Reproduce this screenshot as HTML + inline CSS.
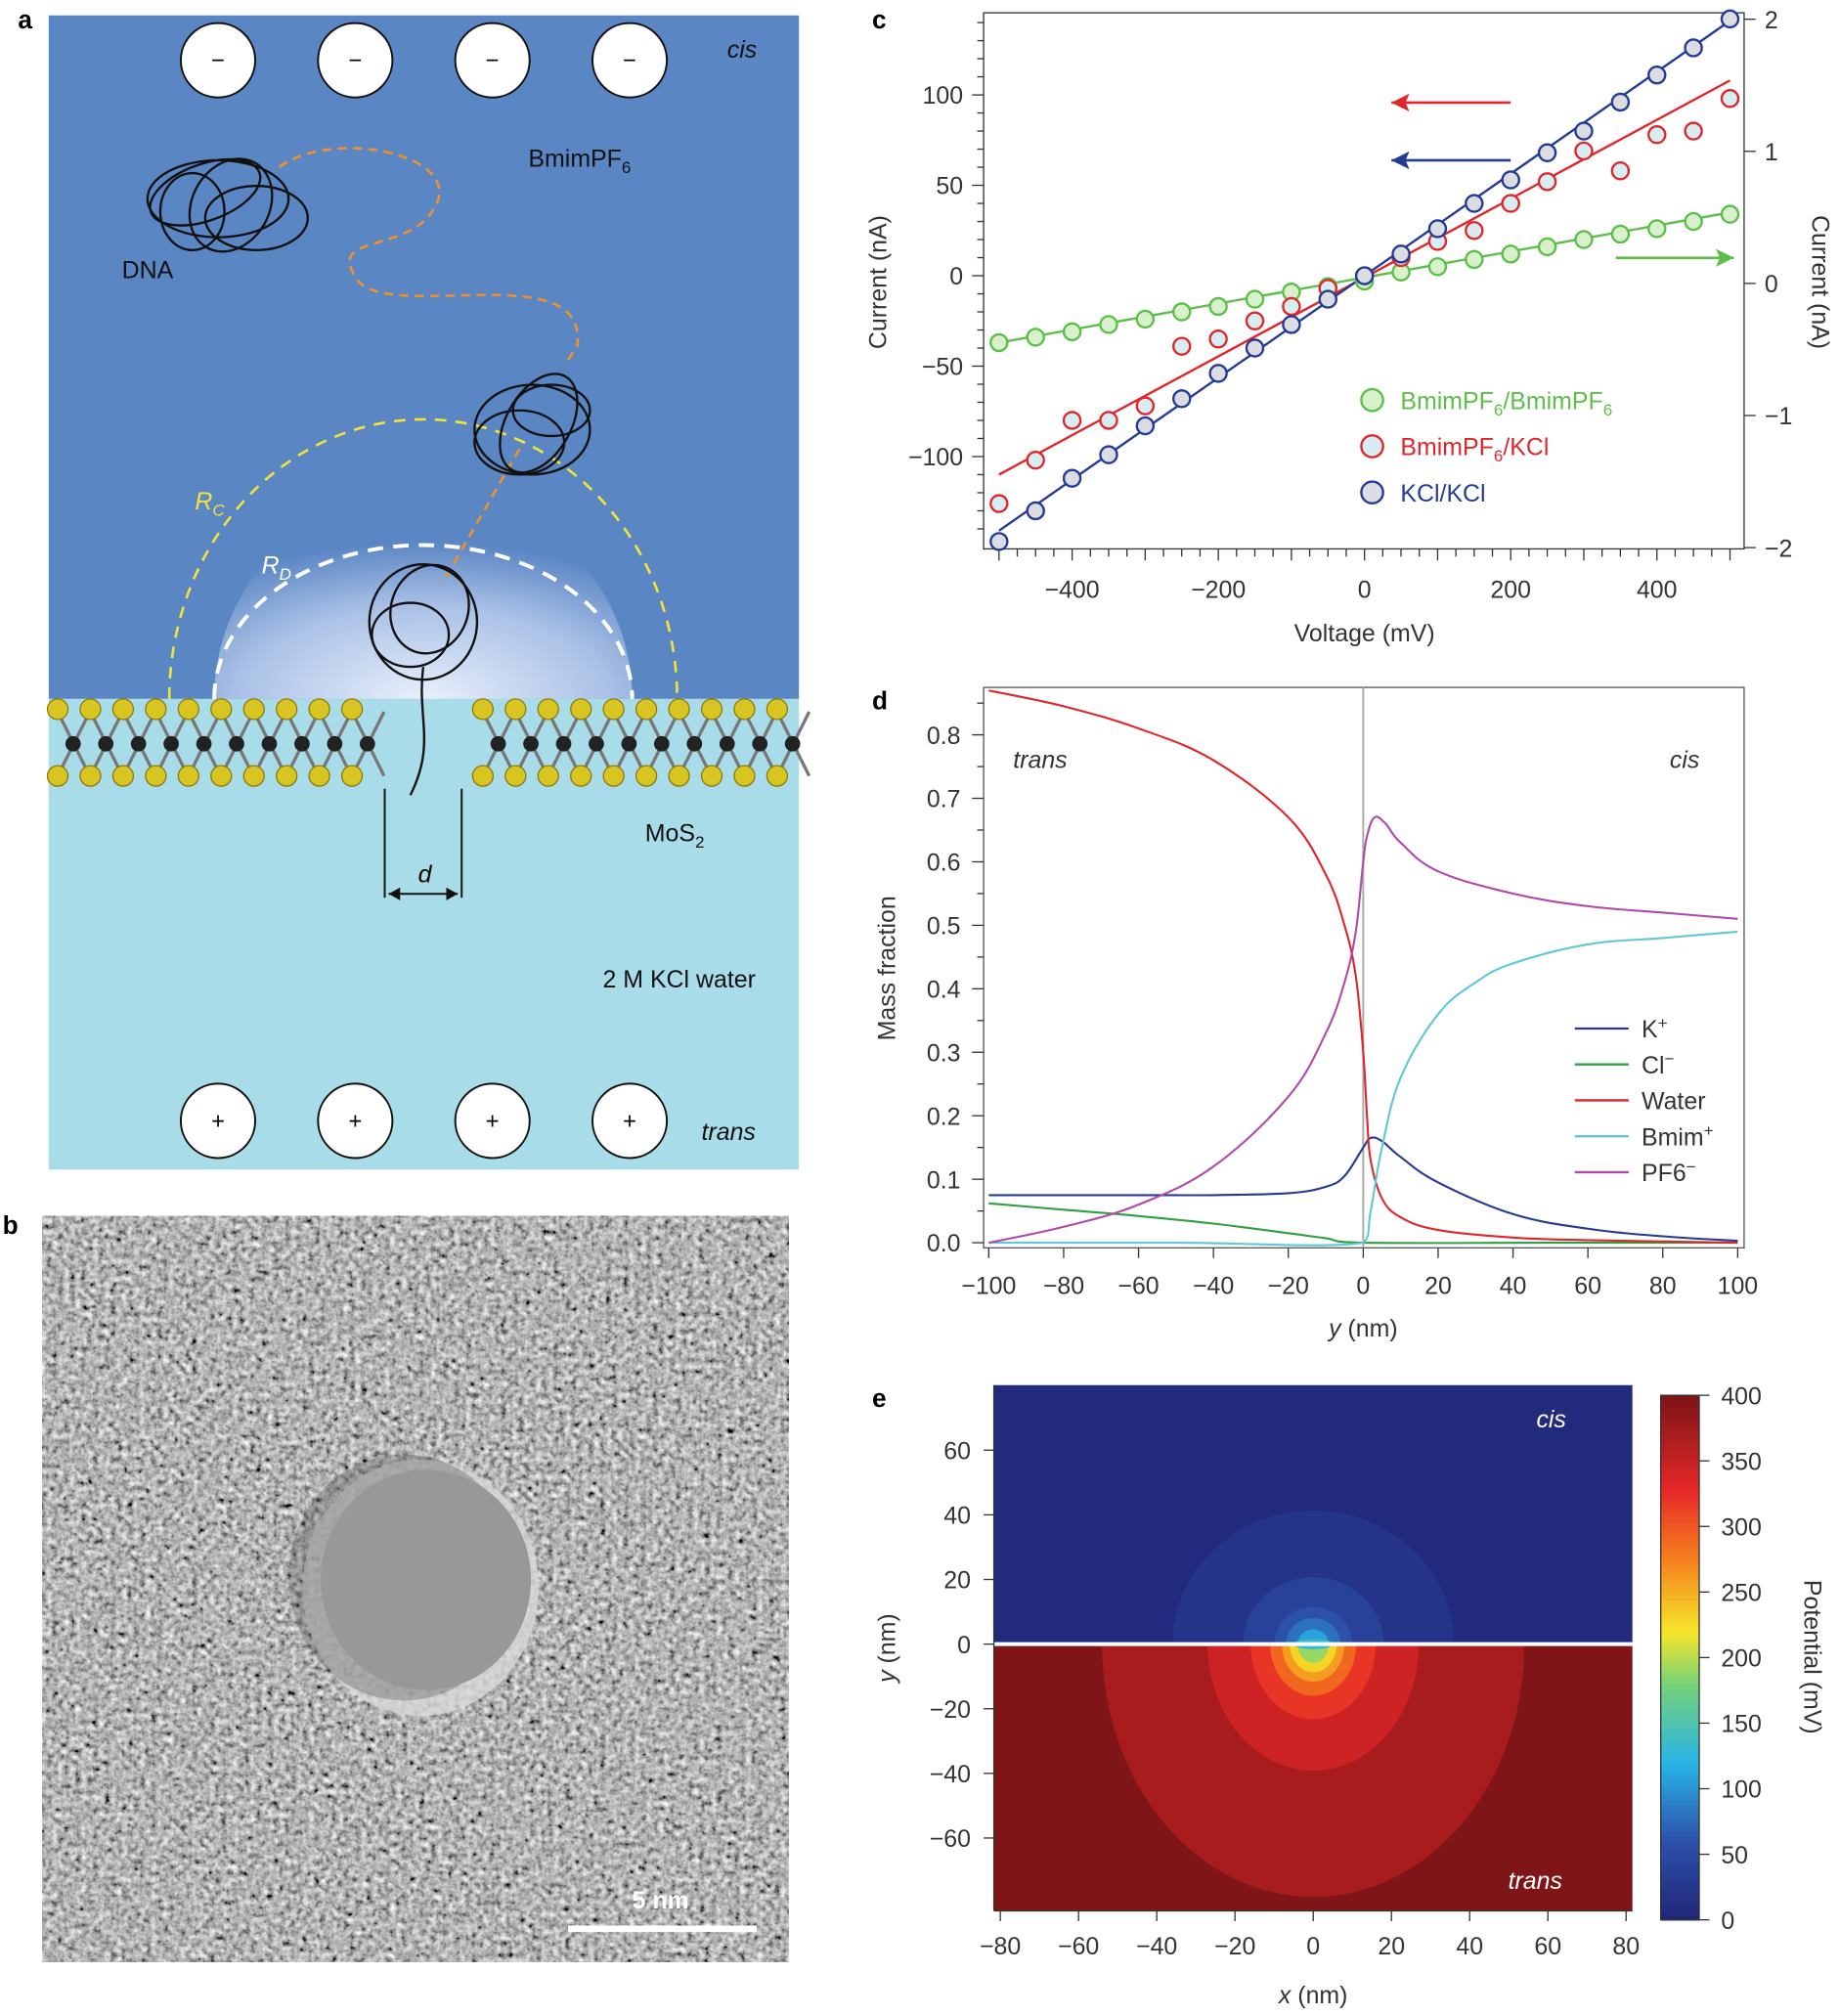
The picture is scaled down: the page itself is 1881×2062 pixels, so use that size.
<!DOCTYPE html>
<html><head><meta charset="utf-8">
<style>
html,body{margin:0;padding:0;background:#fff;}
body{width:1881px;height:2055px;overflow:hidden;}
#wrap{width:1434px;height:1567px;transform:scale(1.31172);transform-origin:0 0;position:relative;}
svg text{font-family:"Liberation Sans",sans-serif;}
</style></head>
<body>
<div id="wrap">
<svg id="fig" width="1434" height="1567" viewBox="0 0 1434 1567" xmlns="http://www.w3.org/2000/svg">
<defs>
<radialGradient id="glow" cx="0.5" cy="1" r="0.75">
<stop offset="0" stop-color="#e8f0fb"/><stop offset="0.6" stop-color="#a9c0e6"/><stop offset="1" stop-color="#5b86c4"/></radialGradient>
<filter id="noise" x="0" y="0" width="100%" height="100%">
<feTurbulence type="fractalNoise" baseFrequency="0.22" numOctaves="3" seed="3"/>
<feColorMatrix type="matrix" values="0.33 0.33 0.33 0 0  0.33 0.33 0.33 0 0  0.33 0.33 0.33 0 0  0 0 0 0 1"/>
<feComponentTransfer><feFuncR type="linear" slope="2.2" intercept="-0.62"/><feFuncG type="linear" slope="2.2" intercept="-0.62"/><feFuncB type="linear" slope="2.2" intercept="-0.62"/></feComponentTransfer>
</filter>
</defs>

<!-- Panel a -->
<g>
<text x="14" y="22" font-size="20" font-weight="bold">a</text>
<rect x="38" y="12" width="585" height="533" fill="#5b86c4"/>
<rect x="38" y="545" width="585" height="367" fill="#a8dce8"/>
<path d="M167 545 A163 163 0 0 1 493 545 Z" fill="url(#glow)"/>
<path d="M132 545 A198 218 0 0 1 528 545" fill="none" stroke="#f2e23a" stroke-width="2" stroke-dasharray="9 7"/>
<path d="M167 545 A163 120 0 0 1 493 545" fill="none" stroke="#fff" stroke-width="3" stroke-dasharray="12 8"/>
<text x="152" y="397" font-size="19" font-style="italic" fill="#f2e23a">R<tspan font-size="13" dy="5">C</tspan></text>
<text x="204" y="447" font-size="19" font-style="italic" fill="#fff">R<tspan font-size="13" dy="5">D</tspan></text>
<g id="mos2"></g>
<path d="M218 130 C260 100 360 120 340 160 C320 200 250 180 280 220 C310 250 460 200 450 270 L440 285" fill="none" stroke="#f0902a" stroke-width="2" stroke-dasharray="7 5"/>
<path d="M405 350 L345 455" fill="none" stroke="#f0902a" stroke-width="2" stroke-dasharray="7 5"/>
<g fill="none" stroke="#111" stroke-width="1.8">
<ellipse cx="170" cy="155" rx="55" ry="30"/><ellipse cx="180" cy="160" rx="30" ry="38" transform="rotate(30 180 160)"/><ellipse cx="160" cy="150" rx="45" ry="22" transform="rotate(-20 160 150)"/><ellipse cx="200" cy="170" rx="40" ry="25"/><ellipse cx="150" cy="165" rx="25" ry="30"/>
<ellipse cx="415" cy="335" rx="45" ry="35"/><ellipse cx="420" cy="330" rx="25" ry="42" transform="rotate(30 420 330)"/><ellipse cx="405" cy="345" rx="35" ry="25"/><ellipse cx="430" cy="320" rx="30" ry="20"/>
<ellipse cx="330" cy="485" rx="42" ry="45"/><ellipse cx="335" cy="475" rx="30" ry="35" transform="rotate(20 335 475)"/><ellipse cx="320" cy="495" rx="30" ry="25"/>
<path d="M330 520 C325 560 340 580 320 620"/>
</g>
<text x="95" y="217" font-size="19" fill="#111">DNA</text>
<text x="412" y="130" font-size="19" fill="#111">BmimPF<tspan font-size="13" dy="5">6</tspan></text>
<text x="567" y="45" font-size="19" font-style="italic" fill="#111">cis</text>
<text x="503" y="656" font-size="19" fill="#111">MoS<tspan font-size="13" dy="5">2</tspan></text>
<text x="470" y="770" font-size="19" fill="#111">2 M KCl water</text>
<text x="547" y="889" font-size="19" font-style="italic" fill="#111">trans</text>
<line x1="300" y1="615" x2="300" y2="700" stroke="#111" stroke-width="1.5"/><line x1="360" y1="615" x2="360" y2="700" stroke="#111" stroke-width="1.5"/>
<line x1="303" y1="697" x2="357" y2="697" stroke="#111" stroke-width="1.5"/>
<path d="M303 697 l9 -5 v10 z M357 697 l-9 -5 v10 z" fill="#111"/>
<text x="326" y="688" font-size="19" font-style="italic">d</text>
<g id="electrodes"></g>
</g>

<!-- Panel b -->
<g>
<text x="2" y="962" font-size="20" font-weight="bold">b</text>
<rect x="33" y="948" width="582" height="582" fill="#7a7a7a"/>
<rect x="33" y="948" width="582" height="582" filter="url(#noise)" opacity="0.95"/>
<ellipse cx="328" cy="1238" rx="92" ry="100" fill="#d8d8d8" opacity="0.8"/>
<ellipse cx="315" cy="1230" rx="90" ry="96" fill="#555" opacity="0.35"/>
<ellipse cx="332" cy="1232" rx="82" ry="86" fill="#989898"/>
<line x1="443" y1="1504" x2="590" y2="1504" stroke="#fff" stroke-width="5"/>
<text x="493" y="1488" font-size="19" fill="#fff" font-weight="bold">5 nm</text>
</g>

<g id="pc"></g>
<g id="pd"></g>
<g id="pe"></g>
</svg>
</div>
<script>
// ---- Panel c data ----
const voltages=[-500,-450,-400,-350,-300,-250,-200,-150,-100,-50,0,50,100,150,200,250,300,350,400,450,500];
const kclKcl=[-147,-130,-112,-99,-83,-68,-54,-40,-27,-13,0,12,26,40,53,68,80,96,111,126,142];
const bmimKcl=[-126,-102,-80,-80,-72,-39,-35,-25,-17,-7,0,10,19,25,40,52,69,58,78,80,98];
const bmimBmim=[-37,-34,-31,-27,-24,-20,-17,-13,-9,-6,-3,2,5,9,12,16,20,23,26,30,34];
const fitV=[-500,500];
const kclFit=[-141,141];
const bmimKclFit=[-110,108];
const bmimBmimFit=[-37,35];
const cXTicks=[-400,-200,0,200,400];
const cYTicks=[-100,-50,0,50,100];
const cRTicks=[-2,-1,0,1,2];
// ---- Panel d data ----
const dYTicksLab=[0.0,0.1,0.2,0.3,0.4,0.5,0.6,0.7,0.8];
const dXTicks=[-100,-80,-60,-40,-20,0,20,40,60,80,100];
const waterY=[-100,-80,-60,-40,-20,-10,-5,-2,0,1,2,5,10,20,40,60,100];
const waterF=[0.87,0.845,0.81,0.76,0.67,0.58,0.50,0.42,0.30,0.20,0.13,0.07,0.04,0.02,0.008,0.004,0.0];
const pf6Y=[-100,-80,-60,-40,-20,-10,-5,-2,0,1,3,6,10,20,40,60,80,100];
const pf6F=[0.0,0.025,0.06,0.12,0.23,0.33,0.41,0.49,0.60,0.64,0.67,0.66,0.63,0.585,0.55,0.53,0.52,0.51];
const bmimY=[-100,-50,0,2,5,10,20,30,40,60,80,100];
const bmimF=[0.0,0.0,0.0,0.05,0.15,0.26,0.36,0.41,0.44,0.47,0.48,0.49];
const kY=[-100,-60,-40,-20,-10,-5,0,2,5,10,20,40,60,80,100];
const kF=[0.075,0.075,0.075,0.078,0.088,0.105,0.15,0.165,0.16,0.135,0.095,0.045,0.022,0.01,0.003];
const clY=[-100,-80,-60,-40,-20,-10,0,50,100];
const clF=[0.062,0.052,0.042,0.03,0.015,0.007,0.0,0.0,0.0];
// ---- Panel e data ----
const eXTicks=[-80,-60,-40,-20,0,20,40,60,80];
const eYTicks=[-60,-40,-20,0,20,40,60];
const cbTicks=[0,50,100,150,200,250,300,350,400];
const cisLevels=[20,40,60,80,110];
const cisRadii=[36,18,10,7,4];
const transLevels=[370,345,320,290,260,230,190];
const transRadii=[54,27,16,11,8,6,4];

const NS='http://www.w3.org/2000/svg';
function el(p,tag,a,txt){const e=document.createElementNS(NS,tag);for(const k in a)e.setAttribute(k,a[k]);if(txt!==undefined)e.textContent=txt;p.appendChild(e);return e;}
function cmap(v){const t=Math.max(0,Math.min(1,v/400));
 const st=[[0,[32,38,120]],[0.15,[45,80,170]],[0.3,[40,180,230]],[0.45,[120,210,120]],[0.55,[245,230,40]],[0.7,[245,120,30]],[0.82,[230,40,40]],[1,[125,20,22]]];
 for(let i=1;i<st.length;i++){if(t<=st[i][0]){const a=st[i-1],b=st[i];const f=(t-a[0])/(b[0]-a[0]);return 'rgb('+a[1].map((c,j)=>Math.round(c+(b[1][j]-c)*f)).join(',')+')';}}return 'rgb(125,20,22)';}
function smooth(pts){ // monotone-ish catmull-rom
 let d='M'+pts[0][0].toFixed(1)+' '+pts[0][1].toFixed(1);
 for(let i=0;i<pts.length-1;i++){const p0=pts[Math.max(0,i-1)],p1=pts[i],p2=pts[i+1],p3=pts[Math.min(pts.length-1,i+2)];
  const t=0.18;
  const c1=[p1[0]+(p2[0]-p0[0])*t,p1[1]+(p2[1]-p0[1])*t],c2=[p2[0]-(p3[0]-p1[0])*t,p2[1]-(p3[1]-p1[1])*t];
  c1[0]=Math.min(Math.max(c1[0],p1[0]),p2[0]);c2[0]=Math.min(Math.max(c2[0],p1[0]),p2[0]);
  d+=` C${c1[0].toFixed(1)} ${c1[1].toFixed(1)} ${c2[0].toFixed(1)} ${c2[1].toFixed(1)} ${p2[0].toFixed(1)} ${p2[1].toFixed(1)}`;}
 return d;}

// panel a decorations
(function(){
 const g=document.getElementById('mos2');
 for(let x=45;x<620;x+=25.5){ if(x>292&&x<368)continue;
  el(g,'path',{d:`M${x} 555 L${x+25} 605 M${x+25} 555 L${x} 605`,stroke:'#777','stroke-width':2.5,fill:'none'});
 }
 for(let x=45;x<620;x+=25.5){ if(x>292&&x<368)continue;
  el(g,'circle',{cx:x,cy:553,r:8,fill:'#d9c521',stroke:'#8a7a10','stroke-width':1});
  el(g,'circle',{cx:x+12,cy:580,r:6,fill:'#222'});
  el(g,'circle',{cx:x,cy:605,r:8,fill:'#d9c521',stroke:'#8a7a10','stroke-width':1});
 }
 const e=document.getElementById('electrodes');
 [170,277,384,491].forEach((x,i)=>{
  const c1=el(e,'circle',{cx:x,cy:47,r:29,fill:'#fff',stroke:'#111','stroke-width':1.5});
  
  
  el(e,'text',{x:x,y:53,'font-size':18,'text-anchor':'middle'},'−');
  const c2=el(e,'circle',{cx:x,cy:874,r:29,fill:'#fff',stroke:'#111','stroke-width':1.5});
  
  
  el(e,'text',{x:x,y:880,'font-size':18,'text-anchor':'middle'},'+');
 });
})();

// panel c
(function(){
 const g=document.getElementById('pc');
 const L=767,R=1360,T=10,B=428;
 const X=v=>1064+v*0.57, Y=v=>215-v*1.41, YR=v=>221-v*103;
 el(g,'text',{x:680,y:22,'font-size':20,'font-weight':'bold'},'c');
 const fr=el(g,'rect',{x:L,y:T,width:R-L,height:B-T,fill:'none',stroke:'#333','stroke-width':1});
 
 for(let v=-500;v<=500;v+=25){el(g,'line',{x1:X(v),y1:B,x2:X(v),y2:B+(v%100===0?9:6),stroke:'#333'});}
 cXTicks.forEach(v=>{const t=el(g,'text',{x:X(v),y:B+38,'font-size':19,'text-anchor':'middle',fill:'#333'},v<0?'−'+(-v):v);});
 for(let v=-140;v<=140;v+=10){if(Y(v)<T||Y(v)>B)continue;el(g,'line',{x1:L,y1:Y(v),x2:L-(v%50===0?9:5),y2:Y(v),stroke:'#333'});}
 cYTicks.forEach(v=>{const t=el(g,'text',{x:L-16,y:Y(v)+7,'font-size':19,'text-anchor':'end',fill:'#333'},v<0?'−'+(-v):v);});
 cRTicks.forEach(v=>{el(g,'line',{x1:R,y1:YR(v),x2:R+9,y2:YR(v),stroke:'#333'});const t=el(g,'text',{x:R+16,y:YR(v)+7,'font-size':19,fill:'#333'},v<0?'−'+(-v):v);});
 let t=el(g,'text',{x:1064,y:500,'font-size':19,'text-anchor':'middle',fill:'#333'},'Voltage (mV)');
 t=el(g,'text',{x:0,y:0,'font-size':19,'text-anchor':'middle',fill:'#333',transform:'translate(691 220) rotate(-90)'},'Current (nA)');
 t=el(g,'text',{x:0,y:0,'font-size':19,'text-anchor':'middle',fill:'#333',transform:'translate(1413 220) rotate(90)'},'Current (nA)');
 const series=[[bmimBmim,bmimBmimFit,'#5cbf4a','#d8f0cc','bmimpf6-bmimpf6'],[bmimKcl,bmimKclFit,'#e0262b','#d6eef2','bmimpf6-kcl'],[kclKcl,kclFit,'#243a94','#dcdde3','kcl-kcl']];
 series.forEach(s=>{
  const ln=el(g,'line',{x1:X(fitV[0]),y1:Y(s[1][0]),x2:X(fitV[1]),y2:Y(s[1][1]),stroke:s[2],'stroke-width':1.8});
  
 });
 series.forEach(s=>{
  s[0].forEach((v,i)=>{const c=el(g,'circle',{cx:X(voltages[i]),cy:Y(v),r:6.5,fill:s[3],stroke:s[2],'stroke-width':1.8});
   });
 });
 const arr=(x1,x2,y,c,n)=>{const a=el(g,'line',{x1:x1,y1:y,x2:x2,y2:y,stroke:c,'stroke-width':2});
  const d=x2<x1?1:-1;el(g,'path',{d:`M${x2} ${y} l${d*14} -7 l${-d*3} 7 l${d*3} 7 z`,fill:c});};
 arr(1178,1085,80,'#e0262b','axis-arrow-red');arr(1178,1085,125,'#243a94','axis-arrow-blue');arr(1260,1352,201,'#5cbf4a','axis-arrow-green');
 const leg=[['#5cbf4a','#d8f0cc','BmimPF<tspan font-size="13" dy="5">6</tspan><tspan dy="-5">/BmimPF</tspan><tspan font-size="13" dy="5">6</tspan>',312,'legend-bmimpf6-bmimpf6'],
  ['#e0262b','#d6eef2','BmimPF<tspan font-size="13" dy="5">6</tspan><tspan dy="-5">/KCl</tspan>',348,'legend-bmimpf6-kcl'],
  ['#243a94','#dcdde3','KCl/KCl',384,'legend-kcl-kcl']];
 leg.forEach(l=>{const c=el(g,'circle',{cx:1070,cy:l[3],r:8.5,fill:l[1],stroke:l[0],'stroke-width':1.8});
  const tx=el(g,'text',{x:1092,y:l[3]+7,'font-size':19,fill:l[0]});tx.innerHTML=l[2];});
})();

// panel d
(function(){
 const g=document.getElementById('pd');
 const L=767,R=1360,T=536,B=973;
 const X=v=>1063+v*2.92, Y=v=>969-v*495;
 el(g,'text',{x:680,y:553,'font-size':20,'font-weight':'bold'},'d');
 const fr=el(g,'rect',{x:L,y:T,width:R-L,height:B-T,fill:'none',stroke:'#555','stroke-width':1});
 
 el(g,'line',{x1:X(0),y1:T,x2:X(0),y2:B,stroke:'#aaa','stroke-width':1.5});
 dXTicks.forEach(v=>{el(g,'line',{x1:X(v),y1:B,x2:X(v),y2:B+8,stroke:'#333'});
  const t=el(g,'text',{x:X(v),y:B+36,'font-size':19,'text-anchor':'middle',fill:'#333'},v<0?'−'+(-v):v);});
 for(let v=0;v<=0.86;v+=0.05){el(g,'line',{x1:L,y1:Y(v),x2:L-(Math.round(v*100)%10===0?9:5),y2:Y(v),stroke:'#333'});}
 dYTicksLab.forEach(v=>{const t=el(g,'text',{x:L-18,y:Y(v)+7,'font-size':19,'text-anchor':'end',fill:'#333'},v.toFixed(1));});
 let t=el(g,'text',{x:1063,y:1042,'font-size':19,'text-anchor':'middle',fill:'#333'});t.innerHTML='<tspan font-style="italic">y</tspan> (nm)';
 t=el(g,'text',{x:0,y:0,'font-size':19,'text-anchor':'middle',fill:'#333',transform:'translate(698 755) rotate(-90)'},'Mass fraction');
 el(g,'text',{x:790,y:599,'font-size':19,'font-style':'italic',fill:'#333'},'trans');
 el(g,'text',{x:1302,y:599,'font-size':19,'font-style':'italic',fill:'#333'},'cis');
 const curves=[[kY,kF,'#243a94','k-plus-curve'],[clY,clF,'#2ea043','cl-minus-curve'],[waterY,waterF,'#e0262b','water-curve'],[bmimY,bmimF,'#5ec8d6','bmim-plus-curve'],[pf6Y,pf6F,'#b04aa8','pf6-minus-curve']];
 curves.forEach(c=>{const pts=c[0].map((y,i)=>[X(y),Y(c[1][i])]);
  const p=el(g,'path',{d:smooth(pts),fill:'none',stroke:c[2],'stroke-width':1.6,'stroke-linejoin':'round'});});
 const leg=[['#243a94','K<tspan font-size="13" dy="-7">+</tspan>'],['#2ea043','Cl<tspan font-size="13" dy="-7">−</tspan>'],['#e0262b','Water'],['#5ec8d6','Bmim<tspan font-size="13" dy="-7">+</tspan>'],['#b04aa8','PF6<tspan font-size="13" dy="-7">−</tspan>']];
 leg.forEach((l,i)=>{const y=802+i*28;const ln=el(g,'line',{x1:1228,y1:y,x2:1270,y2:y,stroke:l[0],'stroke-width':1.8});
  const tx=el(g,'text',{x:1280,y:y+7,'font-size':19,fill:'#333'});tx.innerHTML=l[1];});
})();

// panel e
(function(){
 const g=document.getElementById('pe');
 const L=775,R=1273,T=1080,B=1490;
 const X=v=>1024+v*3.05, Y=v=>1282-v*2.52, S=3.05, SY=2.52;
 el(g,'text',{x:680,y:1097,'font-size':20,'font-weight':'bold'},'e');
 const cl=el(g,'clipPath',{id:'ec'});el(cl,'rect',{x:L,y:T,width:R-L,height:B-T});
 const h=el(g,'g',{'clip-path':'url(#ec)'});
 let r=el(h,'rect',{x:L,y:T,width:R-L,height:Y(0)-T,fill:cmap(5)});
 r=el(h,'rect',{x:L,y:Y(0),width:R-L,height:B-Y(0),fill:cmap(398)});
 cisLevels.forEach((v,i)=>{const rr=cisRadii[i];const p=el(h,'path',{d:`M${X(-rr)} ${Y(0)} A${rr*S} ${rr*SY*1.15} 0 0 1 ${X(rr)} ${Y(0)} Z`,fill:cmap(v)});});
 transLevels.forEach((v,i)=>{const rr=transRadii[i];const p=el(h,'path',{d:`M${X(-rr)} ${Y(0)} A${rr*S} ${rr*SY*1.45} 0 0 0 ${X(rr)} ${Y(0)} Z`,fill:cmap(v)});});
 el(h,'ellipse',{cx:X(0),cy:Y(0),rx:5*S,ry:4,fill:cmap(130)});
 const m=el(g,'line',{x1:L,y1:Y(0),x2:R,y2:Y(0),stroke:'#fff','stroke-width':3});
 el(g,'line',{x1:L,y1:B,x2:R,y2:B,stroke:'#333'});el(g,'line',{x1:L,y1:T,x2:L,y2:B,stroke:'#333'});
 eXTicks.forEach(v=>{el(g,'line',{x1:X(v),y1:B,x2:X(v),y2:B+8,stroke:'#333'});const t=el(g,'text',{x:X(v),y:B+34,'font-size':19,'text-anchor':'middle',fill:'#333'},v<0?'−'+(-v):v);});
 eYTicks.forEach(v=>{el(g,'line',{x1:L,y1:Y(v),x2:L-8,y2:Y(v),stroke:'#333'});const t=el(g,'text',{x:L-18,y:Y(v)+7,'font-size':19,'text-anchor':'end',fill:'#333'},v<0?'−'+(-v):v);});
 let t=el(g,'text',{x:1024,y:1562,'font-size':19,'text-anchor':'middle',fill:'#333'});t.innerHTML='<tspan font-style="italic">x</tspan> (nm)';
 t=el(g,'text',{x:0,y:0,'font-size':19,'text-anchor':'middle',fill:'#333',transform:'translate(698 1285) rotate(-90)'});t.innerHTML='<tspan font-style="italic">y</tspan> (nm)';
 el(g,'text',{x:1198,y:1113,'font-size':19,'font-style':'italic',fill:'#fff'},'cis');
 el(g,'text',{x:1176,y:1473,'font-size':19,'font-style':'italic',fill:'#fff'},'trans');
 const CB=v=>1497-v*(409/400);
 for(let v=0;v<400;v+=4){el(g,'rect',{x:1295,y:CB(v+4),width:30,height:409/100+0.6,fill:cmap(v+2)});}
 const cb=el(g,'rect',{x:1295,y:1088,width:30,height:409,fill:'none',stroke:'#333'});
 cbTicks.forEach(v=>{el(g,'line',{x1:1325,y1:CB(v),x2:1333,y2:CB(v),stroke:'#333'});const t=el(g,'text',{x:1342,y:CB(v)+7,'font-size':19,fill:'#333'},v);});
 t=el(g,'text',{x:0,y:0,'font-size':19,'text-anchor':'middle',fill:'#333',transform:'translate(1407 1292) rotate(90)'},'Potential (mV)');
})();
</script>
</body></html>
